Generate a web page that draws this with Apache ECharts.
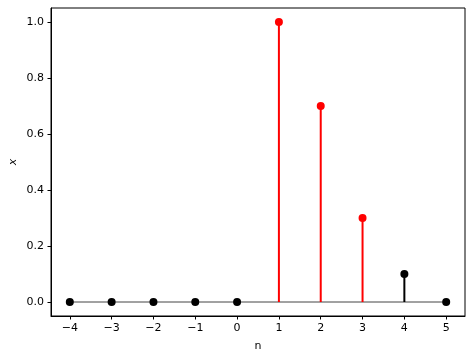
<!DOCTYPE html>
<html>
<head>
<meta charset="utf-8">
<script src="https://cdn.jsdelivr.net/npm/echarts@6/dist/echarts.min.js"></script>
<style>
html,body{margin:0;padding:0;background:#fff;}
#chart{width:474px;height:361px;}
</style>
</head>
<body>
<div id="chart"></div>
<script>
// Data
const nValues = [-4, -3, -2, -1, 0, 1, 2, 3, 4, 5];
const xValues = [0, 0, 0, 0, 0, 1.0, 0.7, 0.3, 0.1, 0];
const stemColors = ['#000', '#000', '#000', '#000', '#000', '#ff0000', '#ff0000', '#ff0000', '#000', '#000'];
const xTicks = [-4, -3, -2, -1, 0, 1, 2, 3, 4, 5];
const yTicks = [0, 0.2, 0.4, 0.6, 0.8, 1.0];

const points = nValues.map((n, i) => [n, xValues[i], i]);
const font = 'DejaVu Sans';

const chart = echarts.init(document.getElementById('chart'), null, {renderer: 'canvas'});
chart.setOption({
  animation: false,
  grid: {left: 51, top: 8, right: 9, bottom: 45, containLabel: false, outerBoundsMode: 'none',
    show: true, borderColor: '#000', borderWidth: 1, backgroundColor: 'transparent'},
  xAxis: {
    type: 'value', min: -4.45, max: 5.45,
    name: 'n', nameLocation: 'middle', nameGap: 25, nameMoveOverlap: false,
    nameTextStyle: {fontFamily: font, fontSize: 11, color: '#000'},
    axisLine: {show: true, onZero: false, lineStyle: {color: '#000', width: 1}},
    axisTick: {show: true, inside: false, length: 3.5, customValues: xTicks, lineStyle: {color: '#000'}},
    axisLabel: {customValues: xTicks, margin: 7, fontFamily: font, fontSize: 11, color: '#000',
      formatter: v => (v < 0 ? '\u2212' + Math.abs(v) : String(v))},
    splitLine: {show: false}
  },
  yAxis: {
    type: 'value', min: -0.05, max: 1.05,
    name: 'x', nameLocation: 'middle', nameGap: 32, nameMoveOverlap: false,
    nameTextStyle: {fontFamily: font, fontSize: 11, color: '#000', fontStyle: 'italic'},
    axisLine: {show: true, onZero: false, lineStyle: {color: '#000', width: 1}},
    axisTick: {show: true, inside: false, length: 3.5, customValues: yTicks, lineStyle: {color: '#000'}},
    axisLabel: {customValues: yTicks, margin: 7, fontFamily: font, fontSize: 11, color: '#000',
      formatter: v => v.toFixed(1)},
    splitLine: {show: false}
  },
  series: [
    {
      type: 'line', data: [[nValues[0], 0], [nValues[nValues.length - 1], 0]],
      symbol: 'none', lineStyle: {color: '#444', width: 1}, z: 1, silent: true
    },
    {
      type: 'custom', data: points, z: 2, silent: true,
      renderItem: (params, api) => {
        const i = api.value(2);
        const p0 = api.coord([api.value(0), 0]);
        const p1 = api.coord([api.value(0), api.value(1)]);
        return {type: 'line', shape: {x1: p0[0], y1: p0[1], x2: p1[0], y2: p1[1]},
          style: {stroke: stemColors[i], lineWidth: 2}};
      }
    },
    {
      type: 'scatter', data: points, symbol: 'circle', symbolSize: 8, z: 3, silent: true,
      itemStyle: {color: p => stemColors[p.data[2]], opacity: 1}
    }
  ]
});
</script>
</body>
</html>
